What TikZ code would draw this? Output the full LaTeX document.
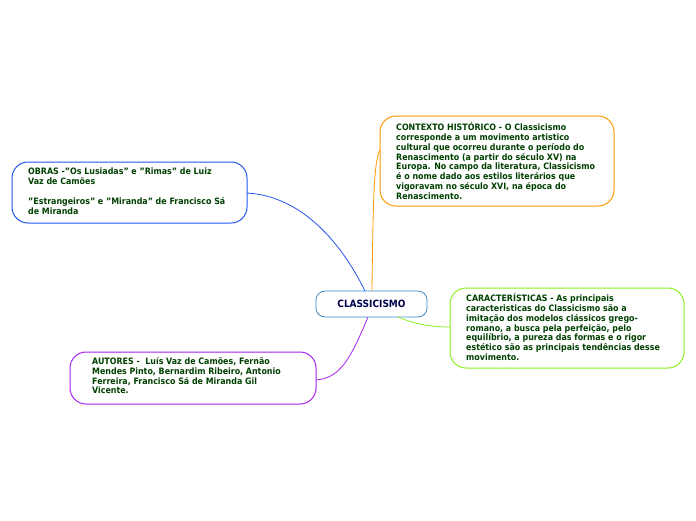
\documentclass[tikz,border=0pt]{standalone}
\usepackage{fontspec}
\setmainfont{DejaVu Sans Condensed}
\newcommand{\dq}{\symbol{34}}
\begin{document}
\begin{tikzpicture}[x=1pt,y=-1pt,
  box/.style={draw,line width=1pt,rounded corners=16pt},
  txt/.style={anchor=north west,align=left,inner sep=0pt,text=green!25!black,font=\fontsize{8.8}{9.9}\selectfont\bfseries}]
\useasboundingbox (0,0) rectangle (696,520);
\definecolor{cb}{HTML}{2255EE}\definecolor{co}{HTML}{FF9A00}\definecolor{cg}{HTML}{8AEE22}\definecolor{cp}{HTML}{A822EE}\definecolor{cc}{HTML}{3A8CCC}
\draw[box,cb] (12,162) rectangle (247,223);
\draw[box,co] (380,116) rectangle (614,206);
\draw[box,cg] (450,288) rectangle (684,368);
\draw[box,cp] (70,352) rectangle (316,404);
\draw[box,cc,rounded corners=9pt,line width=0.8pt] (316,291) rectangle (427,317);
\node[font=\fontsize{10}{12}\selectfont\bfseries,text=blue!30!black] (c) at (371.5,304) {CLASSICISMO};
\coordinate (cn) at (372,291);\coordinate (cs) at (368,317);
\draw[cb,line width=0.8pt] (247,193) .. controls (300,196) and (340,240) .. (365,291);
\draw[co,line width=0.8pt] (cn) .. controls (373,200) and (374,160) .. (380,150);
\draw[cg,line width=0.8pt] (398,317) .. controls (415,324) and (430,327) .. (450,327);
\draw[cp,line width=0.8pt] (cs) .. controls (350,360) and (340,378) .. (316,380);
\node[txt] (o) at (28,168) {OBRAS -\dq Os Lusiadas\dq\ e \dq Rimas\dq\ de Luiz\\Vaz de Camões\\[9.9pt]\dq Estrangeiros\dq\ e \dq Miranda\dq\ de Francisco Sá\\de Miranda};
\node[txt] (k) at (396,122) {CONTEXTO HISTÓRICO - O Classicismo\\corresponde a um movimento artistico\\cultural que ocorreu durante o período do\\Renascimento (a partir do século XV) na\\Europa. No campo da literatura, Classicismo\\é o nome dado aos estilos literários que\\vigoravam no século XVI, na época do\\Renascimento.};
\node[txt] (r) at (466,293) {CARACTERÍSTICAS - As principais\\caracteristicas do Classicismo são a\\imitação dos modelos clássicos grego-\\romano, a busca pela perfeição, pelo\\equilíbrio, a pureza das formas e o rigor\\estético são as principais tendências desse\\movimento.};
\node[txt] (a) at (92,357) {AUTORES -\ \ Luís Vaz de Camões, Fernão\\Mendes Pinto, Bernardim Ribeiro, Antonio\\Ferreira, Francisco Sá de Miranda Gil\\Vicente.};
\end{tikzpicture}
\end{document}
